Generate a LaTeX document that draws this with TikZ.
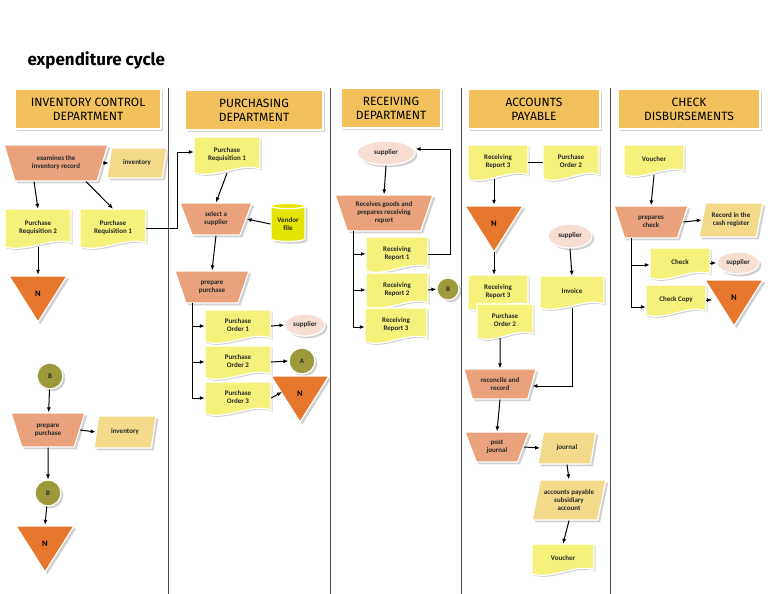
\documentclass[tikz,border=0pt]{standalone}
\usepackage{fontspec}
\setmainfont{Carlito}
\newfontfamily\headf{Fira Sans}
\usetikzlibrary{shapes.geometric,arrows.meta,shadows}
\definecolor{docY}{HTML}{F4F27A}
\definecolor{trapC}{HTML}{E9A27C}
\definecolor{triC}{HTML}{E8772E}
\definecolor{headC}{HTML}{F2C15C}
\definecolor{paraC}{HTML}{F4DA8A}
\definecolor{ellC}{HTML}{F7DED3}
\definecolor{olive}{HTML}{9D9A3C}
\definecolor{cylC}{HTML}{E4E400}
\tikzset{
 lbl/.style={font=\bfseries\fontsize{7}{8}\selectfont,align=center,text=black!85},
 docfill/.style={fill=docY,draw=white,line width=1.2pt,drop shadow={opacity=.35,shadow xshift=1.5pt,shadow yshift=-1.5pt}},
 trifill/.style={fill=triC,draw=white,line width=1.2pt,drop shadow={opacity=.35}},
 trapbox/.style={trapezium,shape border rotate=180,trapezium left angle=68,trapezium right angle=68,trapezium stretches=true,fill=trapC,draw=white,line width=1.2pt,drop shadow={opacity=.35},lbl,inner sep=1pt},
 trilbl/.style={font=\bfseries\fontsize{8.5}{9}\selectfont,minimum width=56pt,minimum height=46pt,inner sep=0pt},
 para/.style={trapezium,trapezium left angle=72,trapezium right angle=108,trapezium stretches=true,fill=paraC,draw=white,line width=1.2pt,drop shadow={opacity=.35},lbl,inner sep=1pt},
 ell/.style={ellipse,fill=ellC,draw=white,line width=1.2pt,drop shadow={opacity=.35},lbl,inner sep=0pt},
 conn/.style={circle,fill=olive,draw=white,line width=1.2pt,drop shadow={opacity=.35},lbl,minimum size=26pt,inner sep=0pt},
 head/.style={fill=headC,draw=white,line width=2pt,drop shadow={opacity=.35},font=\headf\fontsize{12}{14}\selectfont,align=center,inner sep=2pt},
 arr/.style={-{Latex[length=5pt,width=4pt]},line width=1pt},
 ln/.style={line width=1pt},
 lane/.style={black!70,line width=0.6pt}
}
\newcommand\docn[6]{%
 \pgfmathsetmacro\hw{#4/2}\pgfmathsetmacro\hh{#5/2}%
 \begin{scope}[shift={(#2,#3)}]
 \path[docfill] (-\hw,-\hh) -- (\hw,-\hh) -- ({\hw},{\hh-4}) .. controls ({\hw*0.4},{\hh-11}) and ({-\hw*0.3},{\hh+6}) .. ({-\hw},{\hh}) -- cycle;
 \end{scope}
 \node[lbl,minimum width=#4pt,minimum height=#5pt,inner sep=0pt] (#1) at (#2,#3) {\raisebox{2pt}{\shortstack{#6}}};
}
\newcommand\trin[3]{%
 \begin{scope}[shift={(#2,#3)}]
 \path[trifill] (-29,-22) -- (29,-22) -- (0,24) -- cycle;
 \end{scope}
 \node[trilbl] (#1) at (#2,#3) {\raisebox{8pt}{N}};
}
\begin{document}
\begin{tikzpicture}[x=1pt,y=-1pt]
\useasboundingbox[fill=white] (0,0) rectangle (768,594);
\node[anchor=west,font=\headf\bfseries\fontsize{17}{19}\selectfont] (title) at (24,60) {expenditure cycle};
% lanes
\draw[lane] (168,88) -- (168,594);
\draw[lane] (330,88) -- (330,594);
\draw[lane] (461,88) -- (461,594);
\draw[lane] (610,88) -- (610,594);
% headers
\node[head,minimum width=146pt,minimum height=40pt] (h1) at (88,109) {INVENTORY CONTROL\\DEPARTMENT};
\node[head,minimum width=138pt,minimum height=40pt] (h2) at (254,110) {PURCHASING\\DEPARTMENT};
\node[head,minimum width=100pt,minimum height=40pt] (h3) at (391,108) {RECEIVING\\DEPARTMENT};
\node[head,minimum width=132pt,minimum height=40pt] (h4) at (534,109) {ACCOUNTS\\PAYABLE};
\node[head,minimum width=142pt,minimum height=40pt] (h5) at (689,109) {CHECK\\DISBURSEMENTS};
% ===== inventory control
\node[trapbox,minimum width=104pt,minimum height=36pt] (exam) at (56,163) {examines the\\inventory record};
\node[para,minimum width=60pt,minimum height=30pt] (inv1) at (137,163) {inventory};
\docn{pr2}{38}{228}{66}{38}{Purchase\\Requisition 2}
\docn{pr1a}{113}{228}{66}{38}{Purchase\\Requisition 1}
\trin{n1}{38}{298}
\node[conn] (b1) at (50,376) {B};
\node[trapbox,minimum width=74pt,minimum height=34pt] (prep1) at (48,430) {prepare\\purchase};
\node[para,minimum width=62pt,minimum height=32pt] (inv2) at (125,432) {inventory};
\node[conn] (b2) at (48,493) {B};
\trin{n2}{45}{548}
\draw[arr] (exam.east) -- (inv1.west);
\draw[arr] ([xshift=-22pt]exam.south) -- (pr2.north);
\draw[arr] ([xshift=30pt]exam.south) -- (pr1a.north);
\draw[arr] (pr2.south) -- (n1.north);
\draw[arr] (b1) -- (prep1);
\draw[arr] (prep1.east) -- (inv2.west);
\draw[arr] (prep1) -- (b2);
\draw[arr] (b2) -- (n2.north);
% ===== purchasing
\docn{pr1b}{227}{155}{66}{36}{Purchase\\Requisition 1}
\draw[arr] (pr1a.east) -- (177,228) -- (177,152) -- (pr1b.west |- 0,152);
\node[trapbox,minimum width=72pt,minimum height=32pt] (sel) at (216,219) {select a\\supplier};
\node[cylinder,shape border rotate=90,aspect=0.25,fill=cylC,draw=white,line width=1.2pt,drop shadow={opacity=.35},lbl,minimum width=34pt,minimum height=38pt,inner sep=0pt] (vf) at (288,224) {Vendor\\file};
\node[trapbox,minimum width=74pt,minimum height=32pt] (prep2) at (212,287) {prepare\\purchase};
\docn{po1}{238}{326}{66}{32}{Purchase\\Order 1}
\docn{po2}{238}{362}{66}{32}{Purchase\\Order 2}
\docn{po3}{238}{398}{66}{32}{Purchase\\Order 3}
\node[ell,minimum width=40pt,minimum height=22pt] (sup1) at (305,325) {supplier};
\node[conn] (a1) at (302,361) {A};
\trin{n3}{300}{398}
\draw[arr] (pr1b.south) -- (sel.north);
\draw[arr] (vf.west) -- (sel.east);
\draw[arr] (sel.south) -- (prep2.north);
\draw[ln] (192,303) -- (192,398);
\draw[arr] (192,326) -- (po1.west);
\draw[arr] (192,362) -- (po2.west);
\draw[arr] (192,398) -- (po3.west);
\draw[arr] (po1.east) -- (sup1.west);
\draw[arr] (po2.east) -- (a1.west);
\draw[arr] (po3.east) -- (282,392);
% ===== receiving
\node[ell,minimum width=58pt,minimum height=24pt] (sup2) at (386,153) {supplier};
\node[trapbox,minimum width=98pt,minimum height=36pt] (recv) at (384,213) {Receives goods and\\prepares receiving\\report};
\docn{rr1}{397}{254}{62}{34}{Receiving\\Report 1}
\docn{rr2}{397}{290}{62}{34}{Receiving\\Report 2}
\docn{rr3}{396}{325}{62}{34}{Receiving\\Report 3}
\node[conn,minimum size=22pt] (b3) at (448,289) {B};
\draw[arr] (sup2.south) -- (recv.north);
\draw[ln] (353,231) -- (353,327);
\draw[arr] (353,254) -- (rr1.west);
\draw[arr] (353,290) -- (rr2.west);
\draw[arr] (353,327) -- (rr3.west |- 0,327);
\draw[arr] (rr2.east) -- (b3.west);
\draw[arr] (rr1.east) -- (450,254) -- (450,149) -- (sup2.east |- 0,149);
% ===== accounts payable
\docn{ar3}{498}{162}{60}{34}{Receiving\\Report 3}
\docn{apo2}{571}{162}{56}{34}{Purchase\\Order 2}
\draw[ln] (ar3.east) -- (apo2.west);
\trin{n4}{494}{228}
\docn{ar3b}{498}{292}{60}{34}{Receiving\\Report 3}
\docn{apo2b}{505}{321}{56}{34}{Purchase\\Order 2}
\node[ell,minimum width=44pt,minimum height=24pt] (sup3) at (570,236) {supplier};
\docn{invc}{572}{292}{64}{32}{Invoice}
\node[trapbox,minimum width=72pt,minimum height=30pt] (rec) at (500,384) {reconcile and\\record};
\node[trapbox,minimum width=64pt,minimum height=30pt] (post) at (497,447) {post\\journal};
\node[para,minimum width=58pt,minimum height=32pt] (jour) at (567,448) {journal};
\node[para,minimum width=74pt,minimum height=40pt] (apsub) at (569,500) {accounts payable\\subsidiary\\account};
\docn{vch}{563}{559}{62}{30}{Voucher}
\draw[arr] (ar3.south -| 494,0) -- (n4.north);
\draw[arr] (494,252) -- (ar3b.north -| 494,0);
\draw[arr] (sup3.south) -- (invc.north);
\draw[arr] (apo2b.south -| 500,0) -- (rec.north);
\draw[arr] (invc.south) -- (572,386) -- (rec.east |- 0,386);
\draw[arr] (rec.south) -- (post.north);
\draw[arr] (post.east) -- (jour.west);
\draw[arr] (jour.south) -- (apsub.north);
\draw[arr] (apsub.south) -- (vch.north);
% ===== check disbursements
\docn{cv}{654}{160}{60}{30}{Voucher}
\node[trapbox,minimum width=74pt,minimum height=32pt] (pc) at (651,222) {prepares\\check};
\node[para,minimum width=64pt,minimum height=34pt] (rcr) at (731,220) {Record in the\\cash register};
\docn{chk}{680}{263}{60}{30}{Check}
\docn{chc}{676}{300}{60}{30}{Check Copy}
\node[ell,minimum width=42pt,minimum height=22pt] (sup4) at (738,263) {supplier};
\trin{n5}{734}{302}
\draw[arr] (cv.south) -- (pc.north);
\draw[arr] (pc.east) -- (rcr.west);
\draw[ln] (631,238) -- (631,307);
\draw[arr] (631,265) -- (chk.west |- 0,265);
\draw[arr] (631,307) -- (chc.west |- 0,307);
\draw[arr] (chk.east) -- (sup4.west);
\draw[arr] (chc.east) -- (712,300);
\end{tikzpicture}
\end{document}
